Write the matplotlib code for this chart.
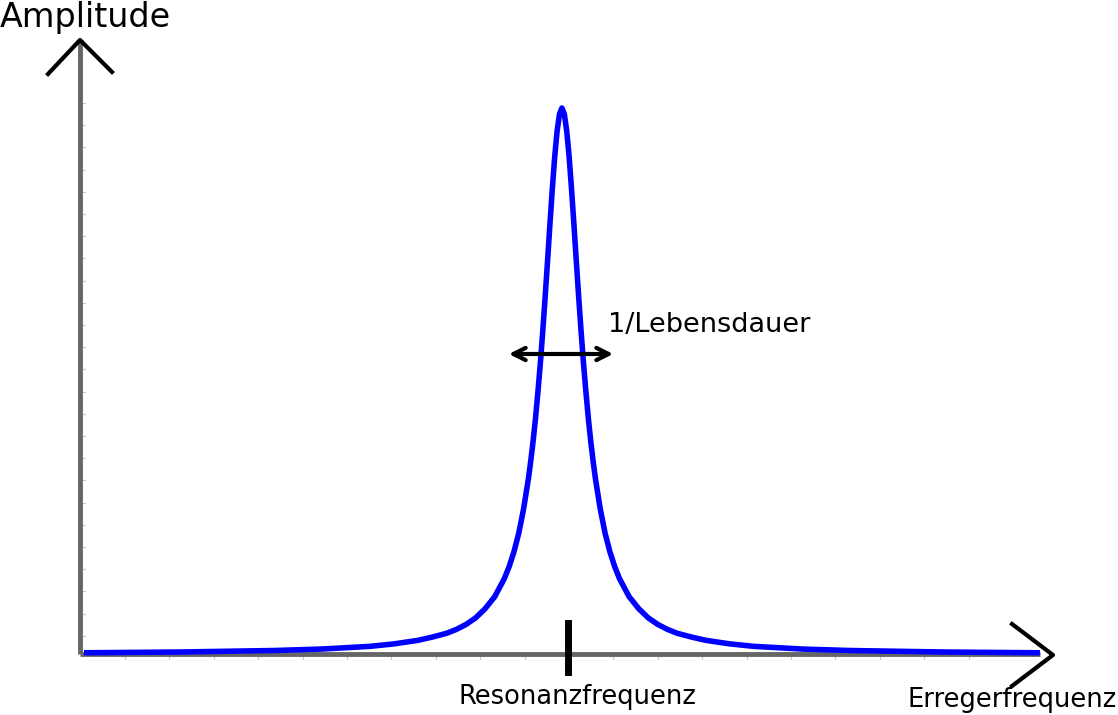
import matplotlib
matplotlib.use("Agg")
import matplotlib.pyplot as plt
import numpy as np

# resonance curve (offset from peak -> amplitude)
right_off = [0, 0.25, 0.5, 0.75, 1, 1.25, 1.5, 1.75, 2, 2.25, 2.5, 2.75, 3, 3.25, 3.5, 4, 4.5, 5,
             5.5, 6, 7, 8, 9, 10, 11, 12, 13.5, 15, 17.5, 20, 25, 30, 40, 49.5]
right_amp = [1.0, 0.989, 0.958, 0.911, 0.852, 0.787, 0.719, 0.653, 0.590, 0.532, 0.480, 0.432,
             0.390, 0.353, 0.320, 0.265, 0.221, 0.187, 0.160, 0.138, 0.105, 0.083, 0.066, 0.054,
             0.045, 0.038, 0.031, 0.025, 0.0185, 0.014, 0.0091, 0.0064, 0.0036, 0.0023]
peak_x = 50.2

fig = plt.figure(figsize=(11.18, 7.15), dpi=100)
ax = fig.add_axes([0, 0, 1, 1])
# map: x = (px-80)/9.6 ; y = (654-py)/546
ax.set_xlim(-80 / 9.6, (1118 - 80) / 9.6)
ax.set_ylim(-61 / 546, 654 / 546)
ax.axis('off')

px = lambda p: (p - 80) / 9.6
py = lambda p: (654 - p) / 546

# light tick marks
for yt in np.arange(py(103), 0.01, -py(654 - 22.2)):
    ax.plot([0, 0.5], [yt, yt], color='#c8c8c8', lw=0.8)
for xt in np.arange(px(125), px(1000), 44.4 / 9.6):
    ax.plot([xt, xt], [0, py(659)], color='#c8c8c8', lw=0.8)

# axes
ax.plot([0, 0], [py(654), py(42)], color='#666666', lw=3.5, solid_capstyle='butt')
ax.plot([0, px(1040)], [0, 0], color='#666666', lw=3.5, solid_capstyle='butt')

# curve (symmetric around the peak)
xs = np.concatenate([peak_x - np.array(right_off[::-1]), peak_x + np.array(right_off[1:])])
ys = np.concatenate([right_amp[::-1], right_amp[1:]])
ax.plot(xs, ys, color='#0000ff', lw=4, solid_joinstyle='round')

# arrowheads
ax.plot([px(48), px(80), px(112)], [py(74), py(40), py(72)], color='black', lw=3)
ax.plot([px(1012), px(1053), px(1012)], [py(624), py(655), py(686)], color='black', lw=3)

# resonance mark
ax.plot([px(568), px(568)], [py(623), py(672)], color='black', lw=5)

# linewidth arrow
ax.annotate('', xy=(px(506), py(354)), xytext=(px(616), py(354)),
            arrowprops=dict(arrowstyle='<->', color='black', lw=3, mutation_scale=22))

ax.text(px(0), py(18), 'Amplitude', fontsize=24, va='center', ha='left')
ax.text(px(608), py(325), '1/Lebensdauer', fontsize=19.5, va='center', ha='left')
ax.text(px(577), py(697), 'Resonanzfrequenz', fontsize=18.5, va='center', ha='center')
ax.text(px(1117), py(700), 'Erregerfrequenz', fontsize=18.5, va='center', ha='right')

fig.savefig('out.png', dpi=100)
